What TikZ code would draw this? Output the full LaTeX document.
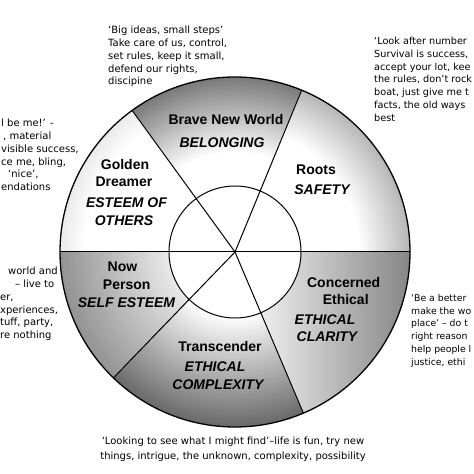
\documentclass[tikz,border=0pt]{standalone}
\usepackage{fontspec}
\setmainfont{DejaVu Sans}
\newfontfamily\labelfont{Liberation Sans}
\newcommand\mysector[4]{%
  \begin{scope}
    \clip (C) -- ++(#1:175) arc[start angle=#1, end angle=#2, radius=175] -- cycle;
    \foreach \k in {0,...,40}{%
      \pgfmathsetmacro\rad{175-\k*(175-#3)/40}%
      \pgfmathsetmacro\gv{#4*(1-\k/40)}%
      \fill[black!\gv] (C) circle (\rad);
    }
  \end{scope}}
\begin{document}
\begin{tikzpicture}[x=1pt,y=1pt,
  note/.style={font=\fontsize{10}{12.8}\selectfont, align=left, inner sep=0pt, anchor=north west},
  lab/.style={font=\labelfont\bfseries\fontsize{14}{17}\selectfont, inner sep=0pt},
  labi/.style={font=\labelfont\bfseries\itshape\fontsize{14}{17}\selectfont, inner sep=0pt},
  divider/.style={line width=1pt},
  rim/.style={line width=1.3pt}]
\useasboundingbox (0,0) rectangle (474,474);
\fill[white] (0,0) rectangle (474,474);
\coordinate (C) at (235,222);
% sectors
\mysector{67.6}{126}{100}{52}
\mysector{0}{67.6}{125}{28}
\mysector{126}{180}{150}{8}
\mysector{180}{226}{40}{42}
\mysector{226}{293}{66}{58}
\begin{scope}
  \clip (C) -- ++(293:175) arc[start angle=293, end angle=360, radius=175] -- cycle;
  \shade[left color=white, right color=black!48] (235,40) rectangle (412,222);
\end{scope}
\fill[white] (C) circle (66);
% rim points
\path (C) ++(0:175) coordinate (p0);
\path (C) ++(67.6:175) coordinate (p1);
\path (C) ++(126:175) coordinate (p2);
\path (C) ++(180:175) coordinate (p3);
\path (C) ++(226:175) coordinate (p4);
\path (C) ++(293:175) coordinate (p5);
\draw[divider] (p3) -- (p0);
\draw[divider] (C) -- (p1);
\draw[divider] (C) -- (p2);
\draw[divider] (C) -- (p4);
\draw[divider] (C) -- (p5);
\draw[divider] (C) circle (66);
\draw[rim] (C) circle (175);
% wheel labels
\node[lab]  (bnw)  at (226,354) {Brave New World};
\node[labi] (bel)  at (222,331) {BELONGING};
\node[lab]  (roo)  at (316,304) {Roots};
\node[labi] (saf)  at (322,284) {SAFETY};
\node[lab]  (gol)  at (125,310) {Golden};
\node[lab]  (dre)  at (124,292) {Dreamer};
\node[labi] (est)  at (126.5,271) {ESTEEM OF};
\node[labi] (oth)  at (124,253) {OTHERS};
\node[lab]  (now)  at (122.5,207) {Now};
\node[lab]  (per)  at (126.7,189) {Person};
\node[labi] (sel)  at (126.5,171) {SELF ESTEEM};
\node[lab]  (con)  at (343.7,192) {Concerned};
\node[lab]  (eth)  at (345.7,175) {Ethical};
\node[labi] (ec1)  at (325,154) {ETHICAL};
\node[labi] (cla)  at (327,137) {CLARITY};
\node[lab]  (tra)  at (220,128) {Transcender};
\node[labi] (ec2)  at (215,107) {ETHICAL};
\node[labi] (com)  at (218,89) {COMPLEXITY};
% annotations
\node[note] (tnote) at (108,448) {`Big ideas, small steps'\\Take care of us, control,\\set rules, keep it small,\\defend our rights,\\discipine};
\node[note, font=\fontsize{9.7}{12.8}\selectfont] (rnote) at (374,437) {`Look after number\\Survival is success,\\accept your lot, kee\\the rules, don't rock\\boat, just give me t\\facts, the old ways\\best};
\node[note] (lnote) at (1,355) {l be me!' -\\\hspace*{2pt}, material\\visible success,\\ce me, bling,\\\hspace*{7pt}`nice',\\endations};
\node[note] (lnote2) at (0,207) {\hspace*{8pt}world and\\\hspace*{15pt}-- live to\\er,\\xperiences,\\tuff, party,\\re nothing};
\node[note, font=\fontsize{9.3}{12.8}\selectfont] (rnote2) at (411,180) {`Be a better\\make the wo\\place' -- do t\\right reason\\help people l\\justice, ethi};
\node[note, anchor=north, align=center, font=\fontsize{10}{15}\selectfont] (bnote) at (233,37) {`Looking to see what I might find'--life is fun, try new\\things, intrigue, the unknown, complexity, possibility};
\end{tikzpicture}
\end{document}
